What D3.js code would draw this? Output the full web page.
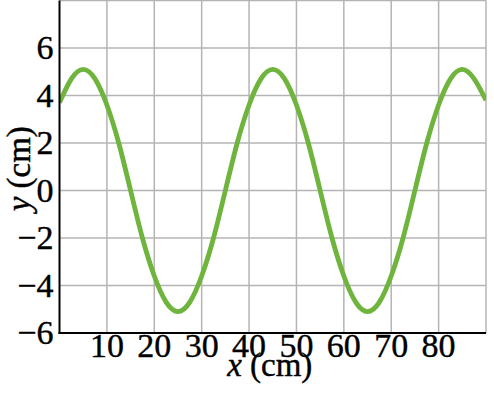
<!DOCTYPE html>
<html>
<head>
<meta charset="utf-8">
<script src="https://cdn.jsdelivr.net/npm/d3@7"></script>
<style>
  body { margin: 0; background: #fff; }
</style>
</head>
<body>
<div id="chart"></div>
<script>
// Wave values (x in cm, y in cm)
const xValues = [0, 2.5, 5, 7.5, 10, 12.5, 15, 17.5, 20, 22.5, 25, 27.5, 30, 32.5, 35, 37.5,
                 40, 42.5, 45, 47.5, 50, 52.5, 55, 57.5, 60, 62.5, 65, 67.5, 70, 72.5, 75, 77.5,
                 80, 82.5, 85, 87.5, 90];
const yValues = [3.7, 4.7, 5.1, 4.7, 3.6, 2.0, 0, -2.0, -3.6, -4.7, -5.1, -4.7, -3.6, -2.0, 0, 2.0,
                 3.6, 4.7, 5.1, 4.7, 3.6, 2.0, 0, -2.0, -3.6, -4.7, -5.1, -4.7, -3.6, -2.0, 0, 2.0,
                 3.6, 4.7, 5.1, 4.7, 3.8];
const xTicks = [10, 20, 30, 40, 50, 60, 70, 80];
const yTicks = [-6, -4, -2, 0, 2, 4, 6];
const xGrid = [10, 20, 30, 40, 50, 60, 70, 80, 90];
const yGrid = [-4, -2, 0, 2, 4, 6, 8];

const width = 494, height = 394;
const plotLeft = 59.5, plotRight = 486, plotTop = 0.5, plotBottom = 333;
const serif = "Liberation Serif";

const svg = d3.select("#chart").append("svg")
    .attr("width", width)
    .attr("height", height);

const x = d3.scaleLinear().domain([0, 90]).range([plotLeft, plotRight]);
const y = d3.scaleLinear().domain([-6, 8]).range([plotBottom, plotTop]);

// Grid
const grid = svg.append("g").attr("stroke", "#b4b4b4").attr("stroke-width", 1.5);
grid.selectAll("line.v").data(xGrid).enter().append("line")
    .attr("x1", d => x(d)).attr("x2", d => x(d))
    .attr("y1", plotTop).attr("y2", plotBottom);
grid.selectAll("line.h").data(yGrid).enter().append("line")
    .attr("x1", plotLeft).attr("x2", plotRight)
    .attr("y1", d => y(d)).attr("y2", d => y(d));

// Clip for the curve
svg.append("clipPath").attr("id", "clip")
    .append("rect")
    .attr("x", plotLeft).attr("y", plotTop)
    .attr("width", plotRight - plotLeft).attr("height", plotBottom - plotTop);

const points = xValues.map((v, i) => [v, yValues[i]]);
const line = d3.line()
    .x(d => x(d[0]))
    .y(d => y(d[1]))
    .curve(d3.curveNatural);

svg.append("path")
    .datum(points)
    .attr("clip-path", "url(#clip)")
    .attr("fill", "none")
    .attr("stroke", "#6fb43c")
    .attr("stroke-width", 4.8)
    .attr("d", line);

// Axes lines
svg.append("line")
    .attr("x1", plotLeft).attr("x2", plotLeft)
    .attr("y1", plotTop).attr("y2", plotBottom + 1)
    .attr("stroke", "#000").attr("stroke-width", 2);
svg.append("line")
    .attr("x1", plotLeft - 1).attr("x2", plotRight)
    .attr("y1", plotBottom).attr("y2", plotBottom)
    .attr("stroke", "#000").attr("stroke-width", 2);

// Tick labels (slight stroke to mimic the heavier TeX glyphs)
svg.append("g").selectAll("text").data(yTicks).enter().append("text")
    .attr("x", plotLeft - 6)
    .attr("y", d => y(d))
    .attr("dy", "0.33em")
    .attr("text-anchor", "end")
    .attr("font-family", serif)
    .attr("font-size", 34)
    .attr("stroke", "#000").attr("stroke-width", 0.4)
    .text(d => d < 0 ? "\u2212" + Math.abs(d) : d);

svg.append("g").selectAll("text").data(xTicks).enter().append("text")
    .attr("x", d => x(d))
    .attr("y", 357)
    .attr("text-anchor", "middle")
    .attr("font-family", serif)
    .attr("font-size", 34)
    .attr("stroke", "#000").attr("stroke-width", 0.4)
    .text(d => d);

// Axis titles
const xt = svg.append("text")
    .attr("x", (plotLeft + plotRight) / 2 - 3)
    .attr("y", 376)
    .attr("text-anchor", "middle")
    .attr("font-family", serif)
    .attr("font-size", 33)
    .attr("stroke", "#000").attr("stroke-width", 0.4);
xt.append("tspan").attr("font-style", "italic").text("x");
xt.append("tspan").text(" (cm)");

const yt = svg.append("text")
    .attr("transform", `translate(30,${(plotTop + plotBottom) / 2 + 2}) rotate(-90)`)
    .attr("text-anchor", "middle")
    .attr("font-family", serif)
    .attr("font-size", 33)
    .attr("stroke", "#000").attr("stroke-width", 0.4);
yt.append("tspan").attr("font-style", "italic").text("y");
yt.append("tspan").text(" (cm)");
</script>
</body>
</html>
